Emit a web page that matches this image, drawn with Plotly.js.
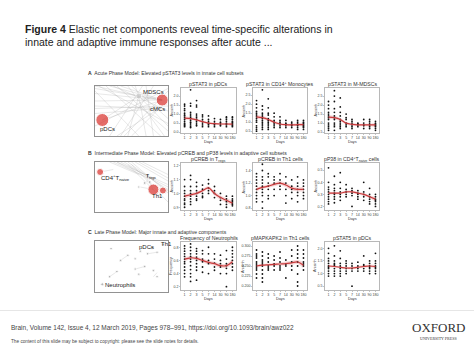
<!DOCTYPE html>
<html><head><meta charset="utf-8">
<script src="https://cdn.plot.ly/plotly-3.0.1.min.js"></script>
<style>html,body{margin:0;padding:0;background:#fff}</style>
</head><body><div id="chart" style="width:474px;height:355px"></div>
<script>
const W = 474, H = 355;
const days = ['1','2','3','5','7','14','30','90','180'];

// ---- Panel A ----
const a1Title = 'pSTAT3 in pDCs';
const a1Points = [[1.55,1.45,1.3,1.2,1.05,0.95,0.9,0.8,0.7,0.6,0.5,0.45,0.4,0.35,0.3],[2.35,1.6,1.45,1.1,1.0,0.9,0.8,0.75,0.65,0.55,0.5,0.4,0.3,0.25],[1.75,1.5,1.4,1.0,0.9,0.8,0.7,0.6,0.5,0.4,0.35],[0.95,0.85,0.7,0.6,0.5,0.4,0.3],[0.9,0.7,0.6,0.5,0.45,0.4,0.3],[0.75,0.6,0.5,0.45,0.4,0.3],[0.7,0.55,0.5,0.4,0.35],[0.85,0.8,0.7,0.6,0.5,0.45,0.4,0.3],[0.85,0.8,0.7,0.6,0.55,0.5,0.45,0.4,0.35,0.3]];
const a1Trend = [0.78,0.75,0.68,0.58,0.5,0.47,0.45,0.45,0.44];
const a1Ci = [0.1,0.07,0.07,0.06,0.05,0.05,0.05,0.05,0.06];
const a1Ticks = ['0.0','0.5','1.0','1.5','2.0'];
const a1Range = [-0.05,2.45];

const a2Title = 'pSTAT3 in CD14<sup>+</sup> Monocytes';
const a2Points = [[2.2,2.0,1.8,1.6,1.5,1.4,1.3,1.2,1.1,1.0,0.8,0.7,0.6,0.5],[2.8,1.9,1.7,1.5,1.4,1.3,1.2,1.1,1.0,0.9,0.8,0.7,0.6],[2.3,1.8,1.5,1.4,1.2,1.1,1.0,0.9,0.8,0.7,0.6],[1.5,1.3,1.1,1.0,0.9,0.8,0.7],[1.3,1.1,1.0,0.9,0.8,0.7],[1.1,0.95,0.9,0.8,0.7],[1.0,0.9,0.85,0.8,0.7],[1.1,1.0,0.9,0.85,0.8,0.7,0.6],[1.1,1.0,0.95,0.9,0.85,0.8,0.75,0.7,0.6]];
const a2Trend = [1.3,1.25,1.15,1.0,0.9,0.86,0.85,0.86,0.87];
const a2Ci = [0.12,0.09,0.09,0.08,0.07,0.07,0.07,0.07,0.08];
const a2Ticks = ['0.5','1.0','1.5','2.0','2.5'];
const a2Range = [0.4,2.9];

const a3Title = 'pSTAT3 in M-MDSCs';
const a3Points = [[2.2,2.0,1.8,1.6,1.5,1.4,1.3,1.2,1.0,0.9,0.8,0.7,0.6],[2.8,2.5,2.2,1.8,1.6,1.4,1.3,1.2,1.0,0.9,0.8,0.6],[2.4,1.9,1.6,1.4,1.2,1.1,1.0,0.9,0.8,0.7],[1.5,1.3,1.2,1.0,0.9,0.8],[1.2,1.1,1.0,0.9,0.8,0.7],[1.0,0.95,0.9,0.8],[1.2,1.0,0.9,0.85,0.7],[1.2,1.1,1.0,0.9,0.8,0.7],[1.1,1.0,0.95,0.9,0.85,0.8,0.7,0.6]];
const a3Trend = [1.33,1.3,1.2,1.0,0.93,0.9,0.9,0.9,0.9];
const a3Ci = [0.12,0.09,0.09,0.08,0.07,0.07,0.07,0.07,0.08];
const a3Ticks = ['0.5','1.0','1.5','2.0','2.5'];
const a3Range = [0.45,2.95];

// ---- Panel B ----
const b1Title = 'pCREB in T<sub>regs</sub>';
const b1Points = [[1.1,1.05,1.02,1.0,0.98,0.96,0.95,0.93,0.92,0.9],[1.13,1.1,1.05,1.02,1.0,0.98,0.96,0.94,0.92],[1.08,1.05,1.02,1.0,0.98,0.96,0.95],[1.06,1.03,1.0,0.98,0.97],[1.1,1.07,1.04,1.02,1.0],[1.05,1.02,1.0,0.97],[1.0,0.97,0.95,0.92],[0.98,0.96,0.94,0.92,0.9],[0.98,0.96,0.95,0.94,0.93,0.92,0.91]];
const b1Trend = [0.98,0.99,1.0,1.02,1.04,1.0,0.97,0.95,0.93];
const b1Ci = [0.015,0.012,0.012,0.012,0.012,0.015,0.015,0.015,0.015];
const b1Ticks = ['0.9','1.0','1.1','1.2'];
const b1Range = [0.88,1.22];

const b2Title = 'pCREB in Th1 cells';
const b2Points = [[1.35,1.3,1.25,1.2,1.15,1.1,1.05,1.0,0.95,0.9],[1.5,1.4,1.3,1.25,1.2,1.15,1.1,1.05,1.0,0.9,0.8],[1.35,1.3,1.2,1.15,1.1,1.0,0.95],[1.3,1.25,1.2,1.1,1.0],[1.35,1.25,1.2,1.15,1.1],[1.3,1.2,1.1,1.0,0.88],[1.25,1.15,1.1,1.05,0.95],[1.3,1.2,1.15,1.1,1.05,1.0,0.9],[1.25,1.2,1.15,1.1,1.05,1.0,0.95]];
const b2Trend = [1.1,1.13,1.15,1.18,1.2,1.17,1.12,1.1,1.1];
const b2Ci = [0.03,0.025,0.025,0.03,0.03,0.035,0.035,0.03,0.03];
const b2Ticks = ['0.8','1.0','1.2','1.4'];
const b2Range = [0.77,1.52];

const b3Title = 'pP38 in CD4<sup>+</sup>T<sub>naive</sub> cells';
const b3Points = [[0.52,0.4,0.36,0.34,0.32,0.3,0.28,0.26,0.24,0.22],[0.45,0.38,0.35,0.33,0.31,0.3,0.28,0.26,0.23],[0.48,0.4,0.35,0.32,0.3,0.28,0.25],[0.38,0.34,0.32,0.3,0.28],[0.35,0.33,0.31,0.29,0.2],[0.33,0.31,0.3,0.28,0.26],[0.4,0.32,0.3,0.28,0.25],[0.35,0.3,0.28,0.26,0.24,0.22],[0.3,0.28,0.26,0.25,0.24,0.22,0.2]];
const b3Trend = [0.31,0.31,0.31,0.32,0.32,0.31,0.3,0.28,0.26];
const b3Ci = [0.012,0.01,0.01,0.01,0.012,0.012,0.012,0.012,0.014];
const b3Ticks = ['0.2','0.3','0.4','0.5'];
const b3Range = [0.17,0.56];

// ---- Panel C ----
const c1Title = 'Frequency of Neutrophils';
const c1Points = [[0.82,0.78,0.74,0.7,0.66,0.62,0.58,0.55,0.5,0.45,0.4,0.35],[0.85,0.8,0.75,0.7,0.66,0.62,0.58,0.52,0.46,0.4,0.35,0.28],[0.78,0.74,0.7,0.65,0.6,0.55,0.5,0.45,0.3],[0.75,0.7,0.62,0.58,0.5,0.42],[0.8,0.7,0.6,0.55,0.4],[0.7,0.62,0.56,0.5,0.45],[0.68,0.6,0.55,0.5,0.4],[0.75,0.62,0.55,0.52,0.48,0.4,0.2],[0.8,0.75,0.7,0.65,0.6,0.55,0.5,0.45]];
const c1Trend = [0.62,0.64,0.63,0.6,0.57,0.55,0.52,0.52,0.58];
const c1Ci = [0.03,0.025,0.025,0.03,0.03,0.03,0.03,0.03,0.035];
const c1Ticks = ['0.2','0.4','0.6','0.8'];
const c1Range = [0.15,0.88];

const c2Title = 'pMAPKAPK2 in Th1 cells';
const c2Points = [[0.29,0.28,0.275,0.27,0.26,0.255,0.25,0.245,0.24,0.23,0.22],[0.285,0.275,0.265,0.26,0.255,0.25,0.24,0.23,0.22,0.21],[0.28,0.27,0.26,0.25,0.245,0.24],[0.275,0.265,0.255,0.25,0.24],[0.285,0.27,0.26,0.25,0.245,0.24],[0.265,0.255,0.25,0.22],[0.29,0.275,0.26,0.25,0.24],[0.3,0.29,0.28,0.27,0.26,0.25,0.23,0.21,0.2],[0.29,0.28,0.27,0.26,0.255,0.25,0.24]];
const c2Trend = [0.25,0.252,0.253,0.254,0.255,0.256,0.258,0.26,0.252];
const c2Ci = [0.004,0.003,0.003,0.004,0.004,0.005,0.005,0.005,0.006];
const c2Ticks = ['0.200','0.225','0.250','0.275','0.300'];
const c2Range = [0.19,0.31];

const c3Title = 'pSTAT5 in pDCs';
const c3Points = [[2.0,1.8,1.6,1.5,1.4,1.3,1.25,1.2,1.1,1.0,0.9],[2.1,1.7,1.5,1.4,1.35,1.3,1.2,1.1,1.0,0.9],[1.9,1.6,1.4,1.3,1.2,1.1,1.0,0.9],[1.5,1.4,1.3,1.2,1.1,1.0],[1.4,1.3,1.2,1.1,0.5],[1.45,1.3,1.2,1.1],[1.7,1.35,1.3,1.2,1.1],[1.5,1.4,1.3,1.25,1.2,1.1,1.0],[1.8,1.5,1.4,1.3,1.25,1.2,1.1,1.0]];
const c3Trend = [1.3,1.28,1.25,1.22,1.22,1.25,1.28,1.3,1.28];
const c3Ci = [0.05,0.04,0.04,0.04,0.05,0.05,0.05,0.05,0.05];
const c3Ticks = ['0.5','1.0','1.5','2.0'];
const c3Range = [0.35,2.25];

// ---- Networks ----
const netAEdges = [[0.92,0.72,0,0.95],[0.92,0.72,0,0.85],[0.92,0.72,0,0.7],[0.92,0.72,0.1,0.32],[0.92,0.72,0.2,1],[0.92,0.72,0.35,1],[0.88,0.55,0,0.6],[0.88,0.55,0,0.45],[0.88,0.55,0.3,0],[0.88,0.55,0.5,0],[0.6,0.8,0,1],[0.6,0.8,0.1,0.32],[0.6,0.8,0.45,0],[0.6,0.8,0.7,0],[0.6,0.8,1,0.2],[0.6,0.8,0.55,1],[0.5,1,1,0.35],[0.3,1,1,0.1],[0.7,1,0.8,0],[0.65,1,0.2,0],[0,0.2,1,0.95],[0.4,0,1,0.9],[0.8,1,0.35,0],[0,0.55,1,0.6],[0.15,1,0.9,0],[0.25,1,1,0.5],[0.45,1,0.95,0],[0,0.9,0.6,0],[0.05,1,1,0.25],[0.6,0.8,0.92,0.72]];
const netANodesX = [0.1,0.92,0.88,0.6];
const netANodesY = [0.32,0.72,0.55,0.8];
const netANodesSize = [13,12,4,6];
const netANodesColor = ['#d9302a','#d9302a','#b0b0b0','#c8c8c8'];

const netBEdges = [[0.3,1,1,0.55],[0.35,1,1,0.5],[0.4,1,1,0.45],[0.45,1,1,0.42],[0.5,1,1,0.38],[0.55,1,1,0.62],[0.6,1,1,0.68],[0.25,1,0.7,0.7],[0.3,1,0.75,0.65],[0.2,1,0.6,0.75],[0.65,1,1,0.75],[0.07,0.8,0.25,0.85],[0.7,0.7,0.8,0.45],[0.7,0.62,0.93,0.43],[0.62,0.5,0.8,0.45],[0.45,0.95,0.9,0.3],[0.5,0.95,1,0.2]];
const netBNodesX = [0.07,0.72,0.8,0.93,0.68,0.6,0.75];
const netBNodesY = [0.8,0.72,0.45,0.43,0.58,0.5,0.6];
const netBNodesSize = [7,3,11,7,3,2.5,3];
const netBNodesColor = ['#d9302a','#999','#d9302a','#d9302a','#aaa','#aaa','#aaa'];

const netCEdges = [[0.35,0.62,0.45,0.72],[0.72,0.75,0.85,0.78],[0.55,0.45,0.68,0.5],[0.2,0.3,0.3,0.4],[0.8,0.3,0.85,0.38]];
const netCNodesX = [0.22,0.35,0.45,0.55,0.72,0.85,0.55,0.68,0.8,0.6,0.85,0.3,0.2,0.62,0.78,0.93,0.1];
const netCNodesY = [0.85,0.62,0.72,0.65,0.75,0.78,0.45,0.5,0.42,0.35,0.3,0.4,0.3,0.8,0.87,0.93,0.15];
const netCNodesSize = [2.5,2.5,2.5,2.5,2.5,2.5,2.5,2.5,2.5,2.5,2.5,2.5,2.5,2.5,3,3,3];

// ---- Layout geometry (pixel boxes) ----
const colX = [[181,236],[253,307],[325,379]];
const rowY = [[88,133],[163,210],[242,290]];
const netBox = [[95,168,86,136],[95,168,162,212],[95,168,241,292]];

const panels = [
  [a1Title,a1Points,a1Trend,a1Ci,a1Ticks,a1Range,'Arcsinh'],
  [a2Title,a2Points,a2Trend,a2Ci,a2Ticks,a2Range,'Arcsinh'],
  [a3Title,a3Points,a3Trend,a3Ci,a3Ticks,a3Range,'Arcsinh'],
  [b1Title,b1Points,b1Trend,b1Ci,b1Ticks,b1Range,'Arcsinh'],
  [b2Title,b2Points,b2Trend,b2Ci,b2Ticks,b2Range,'Arcsinh'],
  [b3Title,b3Points,b3Trend,b3Ci,b3Ticks,b3Range,'Arcsinh'],
  [c1Title,c1Points,c1Trend,c1Ci,c1Ticks,c1Range,'Frequency'],
  [c2Title,c2Points,c2Trend,c2Ci,c2Ticks,c2Range,'Arcsinh'],
  [c3Title,c3Points,c3Trend,c3Ci,c3Ticks,c3Range,'Arcsinh']
];

const px = p => p / W;
const py = p => 1 - p / H;
const FONT = 'Liberation Sans, Arial, sans-serif';

const traces = [];
const layout = {
  width: W, height: H, margin: {l:0,r:0,t:0,b:0},
  paper_bgcolor: '#fff', plot_bgcolor: '#fff', showlegend: false,
  font: {family: FONT, color: '#333'},
  annotations: [], shapes: []
};
function ann(x, y, text, size, opts) {
  layout.annotations.push(Object.assign({xref:'paper', yref:'paper', x: px(x), y: py(y), text: text,
    showarrow:false, xanchor:'left', yanchor:'middle', font:{size:size, family:FONT, color:'#333'}}, opts||{}));
}

const idx = days.map((d,i)=>i);
panels.forEach((p, k) => {
  const [title, pts, trend, ci, ticks, range, ylab] = p;
  const n = k + 1;
  const xa = 'x' + n, ya = 'y' + n;
  const c = colX[k % 3], r = rowY[Math.floor(k / 3)];
  layout['xaxis' + n] = {domain:[px(c[0]), px(c[1])], range:[-0.6, 8.6], tickvals: idx, ticktext: days, tickangle: 0,
    showline:true, mirror:true, linecolor:'#888', linewidth:0.6, showgrid:false, zeroline:false,
    ticks:'outside', ticklen:1.2, tickwidth:0.5, tickcolor:'#888', tickfont:{size:3.6, color:'#444', family:FONT}, anchor: ya, fixedrange:true};
  layout['yaxis' + n] = {domain:[py(r[1]), py(r[0])], range: range, tickvals: ticks.map(Number), ticktext: ticks, tickangle: 0,
    showline:true, mirror:true, linecolor:'#888', linewidth:0.6, showgrid:false, zeroline:false,
    ticks:'outside', ticklen:1.2, tickwidth:0.5, tickcolor:'#888', tickfont:{size:3.6, color:'#444', family:FONT}, anchor: xa, fixedrange:true};
  const upper = trend.map((v,i)=>v+ci[i]);
  const lower = trend.map((v,i)=>v-ci[i]);
  traces.push({x: idx.concat(idx.slice().reverse()), y: upper.concat(lower.slice().reverse()), xaxis:xa, yaxis:ya,
    mode:'lines', fill:'toself', fillcolor:'rgba(228,130,130,0.32)', line:{width:0, shape:'spline'}, hoverinfo:'skip'});
  const xs = [], ys = [];
  pts.forEach((arr, i) => arr.forEach(v => { xs.push(i); ys.push(v); }));
  traces.push({x: xs, y: ys, xaxis:xa, yaxis:ya, mode:'markers', marker:{size:1.8, color:'#111'}, hoverinfo:'skip'});
  traces.push({x: idx, y: trend, xaxis:xa, yaxis:ya, mode:'lines', line:{color:'#c83a3c', width:1.2, shape:'spline'}, hoverinfo:'skip'});
  ann((c[0]+c[1])/2, r[0]-4, title, 5.2, {xanchor:'center'});
  ann((c[0]+c[1])/2, r[1]+9.3, 'Days', 3.8, {xanchor:'center'});
  ann(c[0]-10, (r[0]+r[1])/2, ylab, 3.8, {xanchor:'center', textangle:-90});
});

// networks
const nets = [
  [netAEdges, netANodesX, netANodesY, netANodesSize, netANodesColor],
  [netBEdges, netBNodesX, netBNodesY, netBNodesSize, netBNodesColor],
  [netCEdges, netCNodesX, netCNodesY, netCNodesSize, netCNodesX.map(()=> '#999')]
];
nets.forEach((nt, j) => {
  const n = 10 + j, xa = 'x' + n, ya = 'y' + n;
  const b = netBox[j];
  layout['xaxis' + n] = {domain:[px(b[0]), px(b[1])], range:[0,1], showline:true, mirror:true, linecolor:'#777', linewidth:0.8,
    showgrid:false, zeroline:false, showticklabels:false, ticks:'', anchor: ya, fixedrange:true};
  layout['yaxis' + n] = {domain:[py(b[3]), py(b[2])], range:[0,1], showline:true, mirror:true, linecolor:'#777', linewidth:0.8,
    showgrid:false, zeroline:false, showticklabels:false, ticks:'', anchor: xa, fixedrange:true};
  const ex = [], ey = [];
  nt[0].forEach(e => { ex.push(e[0], e[2], null); ey.push(e[1], e[3], null); });
  traces.push({x: ex, y: ey, xaxis:xa, yaxis:ya, mode:'lines', line:{color:'rgba(170,170,170,0.55)', width:0.5}, hoverinfo:'skip'});
  traces.push({x: nt[1], y: nt[2], xaxis:xa, yaxis:ya, mode:'markers', marker:{size: nt[3], color: nt[4]}, hoverinfo:'skip', cliponaxis:false});
});

// network labels
const NL = {size:6, color:'#222', family:FONT};
ann(98, 129, 'pDCs', 6, {font:NL});
ann(141, 91.5, 'MDSCs', 6, {font:NL});
ann(148, 108.5, 'cMCs', 6, {font:NL});
ann(99, 177, 'CD4<sup>+</sup>T<sub>naive</sub>', 6, {font:NL});
ann(144, 176, 'T<sub>regs</sub>', 5, {font:{size:5, color:'#222', family:FONT}});
ann(150, 196, 'Th1', 6, {font:NL});
ann(137, 246.5, 'pDCs', 6, {font:NL});
ann(159, 244, 'Th1', 6, {font:NL});
ann(103, 284.5, 'Neutrophils', 6, {font:NL});

// panel headings
ann(86, 73.5, '<b>A</b>  Acute Phase Model: Elevated pSTAT3 levels in innate cell subsets', 5.1);
ann(86, 152.5, '<b>B</b>  Intermediate Phase Model: Elevated pCREB and pP38 levels in adaptive cell subsets', 5.1);
ann(86, 232, '<b>C</b>  Late Phase Model: Major innate and adaptive components', 5.1);

// slide title
ann(23, 29, '<b>Figure 4</b> Elastic net components reveal time-specific alterations in', 10.5, {font:{size:10.5, color:'#222', family:FONT}});
ann(23, 42.5, 'innate and adaptive immune responses after acute ...', 10.5, {font:{size:10.5, color:'#222', family:FONT}});

// footer
layout.shapes.push({type:'line', xref:'paper', yref:'paper', x0:0, x1:1, y0:py(310.5), y1:py(310.5), line:{color:'#e6e6e6', width:1}});
ann(9, 328, 'Brain, Volume 142, Issue 4, 12 March 2019, Pages 978–991, https://doi.org/10.1093/brain/awz022', 6.5, {font:{size:6.5, color:'#444', family:FONT}});
ann(9, 341.5, 'The content of this slide may be subject to copyright: please see the slide notes for details.', 4.7, {font:{size:4.7, color:'#444', family:FONT}});
ann(438, 327, 'OXFORD', 13, {xanchor:'center', font:{size:13, color:'#333', family:'Liberation Serif, serif'}});
ann(438, 338, 'UNIVERSITY PRESS', 4, {xanchor:'center', font:{size:4, color:'#333', family:'Liberation Serif, serif'}});

Plotly.newPlot('chart', traces, layout, {staticPlot:true, displayModeBar:false});
</script>
</body></html>
